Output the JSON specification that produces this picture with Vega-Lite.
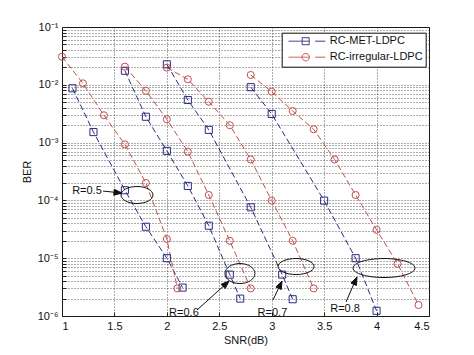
{
  "$schema": "https://vega.github.io/schema/vega-lite/v6.json",
  "width": 367,
  "height": 289,
  "autosize": {"type": "none"},
  "padding": {"left": 62, "top": 27, "right": 45, "bottom": 39},
  "background": "white",
  "config": {
    "font": "Liberation Sans",
    "view": {"stroke": "#111", "strokeWidth": 1},
    "axis": {
      "labelFont": "Liberation Sans", "labelFontSize": 11, "labelColor": "#111",
      "titleFont": "Liberation Sans", "titleFontSize": 11, "titleFontWeight": "normal", "titleColor": "#111",
      "domain": false, "grid": true, "gridColor": "#333", "gridDash": [1, 2], "gridOpacity": 0.8,
      "ticks": true, "tickColor": "#222", "tickSize": -4
    }
  },
  "datasets": {
    "curves": [
      {"scheme": "RC-MET-LDPC", "rate": "0.5", "snr": 1.1, "ber": 0.0087},
      {"scheme": "RC-MET-LDPC", "rate": "0.5", "snr": 1.3, "ber": 0.00152},
      {"scheme": "RC-MET-LDPC", "rate": "0.5", "snr": 1.6, "ber": 0.00015},
      {"scheme": "RC-MET-LDPC", "rate": "0.5", "snr": 1.8, "ber": 0.000035},
      {"scheme": "RC-MET-LDPC", "rate": "0.5", "snr": 2.0, "ber": 0.00001},
      {"scheme": "RC-MET-LDPC", "rate": "0.5", "snr": 2.15, "ber": 0.0000031},
      {"scheme": "RC-MET-LDPC", "rate": "0.6", "snr": 1.6, "ber": 0.0175},
      {"scheme": "RC-MET-LDPC", "rate": "0.6", "snr": 1.8, "ber": 0.0028},
      {"scheme": "RC-MET-LDPC", "rate": "0.6", "snr": 2.0, "ber": 0.00072},
      {"scheme": "RC-MET-LDPC", "rate": "0.6", "snr": 2.2, "ber": 0.000178},
      {"scheme": "RC-MET-LDPC", "rate": "0.6", "snr": 2.4, "ber": 0.0000365},
      {"scheme": "RC-MET-LDPC", "rate": "0.6", "snr": 2.6, "ber": 0.0000052},
      {"scheme": "RC-MET-LDPC", "rate": "0.6", "snr": 2.7, "ber": 0.000002},
      {"scheme": "RC-MET-LDPC", "rate": "0.7", "snr": 2.0, "ber": 0.0226},
      {"scheme": "RC-MET-LDPC", "rate": "0.7", "snr": 2.2, "ber": 0.00546},
      {"scheme": "RC-MET-LDPC", "rate": "0.7", "snr": 2.4, "ber": 0.00166},
      {"scheme": "RC-MET-LDPC", "rate": "0.7", "snr": 2.8, "ber": 0.000076},
      {"scheme": "RC-MET-LDPC", "rate": "0.7", "snr": 3.1, "ber": 0.0000052},
      {"scheme": "RC-MET-LDPC", "rate": "0.7", "snr": 3.2, "ber": 0.00000195},
      {"scheme": "RC-MET-LDPC", "rate": "0.8", "snr": 2.8, "ber": 0.0091},
      {"scheme": "RC-MET-LDPC", "rate": "0.8", "snr": 3.0, "ber": 0.00313},
      {"scheme": "RC-MET-LDPC", "rate": "0.8", "snr": 3.5, "ber": 0.000099},
      {"scheme": "RC-MET-LDPC", "rate": "0.8", "snr": 3.8, "ber": 0.00001},
      {"scheme": "RC-MET-LDPC", "rate": "0.8", "snr": 4.0, "ber": 0.00000123},
      {"scheme": "RC-irregular-LDPC", "rate": "0.5", "snr": 1.0, "ber": 0.0306},
      {"scheme": "RC-irregular-LDPC", "rate": "0.5", "snr": 1.2, "ber": 0.0106},
      {"scheme": "RC-irregular-LDPC", "rate": "0.5", "snr": 1.4, "ber": 0.00297},
      {"scheme": "RC-irregular-LDPC", "rate": "0.5", "snr": 1.6, "ber": 0.00093},
      {"scheme": "RC-irregular-LDPC", "rate": "0.5", "snr": 1.8, "ber": 0.0002},
      {"scheme": "RC-irregular-LDPC", "rate": "0.5", "snr": 2.0, "ber": 0.0000215},
      {"scheme": "RC-irregular-LDPC", "rate": "0.5", "snr": 2.1, "ber": 0.000003},
      {"scheme": "RC-irregular-LDPC", "rate": "0.6", "snr": 1.6, "ber": 0.0206},
      {"scheme": "RC-irregular-LDPC", "rate": "0.6", "snr": 1.8, "ber": 0.0079},
      {"scheme": "RC-irregular-LDPC", "rate": "0.6", "snr": 2.0, "ber": 0.00253},
      {"scheme": "RC-irregular-LDPC", "rate": "0.6", "snr": 2.2, "ber": 0.000697},
      {"scheme": "RC-irregular-LDPC", "rate": "0.6", "snr": 2.4, "ber": 0.000124},
      {"scheme": "RC-irregular-LDPC", "rate": "0.6", "snr": 2.6, "ber": 0.00002},
      {"scheme": "RC-irregular-LDPC", "rate": "0.6", "snr": 2.8, "ber": 0.000003},
      {"scheme": "RC-irregular-LDPC", "rate": "0.7", "snr": 2.0, "ber": 0.0198},
      {"scheme": "RC-irregular-LDPC", "rate": "0.7", "snr": 2.2, "ber": 0.01245},
      {"scheme": "RC-irregular-LDPC", "rate": "0.7", "snr": 2.4, "ber": 0.0051},
      {"scheme": "RC-irregular-LDPC", "rate": "0.7", "snr": 2.6, "ber": 0.002},
      {"scheme": "RC-irregular-LDPC", "rate": "0.7", "snr": 2.8, "ber": 0.00051},
      {"scheme": "RC-irregular-LDPC", "rate": "0.7", "snr": 3.0, "ber": 0.000099},
      {"scheme": "RC-irregular-LDPC", "rate": "0.7", "snr": 3.2, "ber": 0.00002},
      {"scheme": "RC-irregular-LDPC", "rate": "0.7", "snr": 3.4, "ber": 0.000003},
      {"scheme": "RC-irregular-LDPC", "rate": "0.8", "snr": 2.8, "ber": 0.0148},
      {"scheme": "RC-irregular-LDPC", "rate": "0.8", "snr": 3.0, "ber": 0.0076},
      {"scheme": "RC-irregular-LDPC", "rate": "0.8", "snr": 3.2, "ber": 0.00352},
      {"scheme": "RC-irregular-LDPC", "rate": "0.8", "snr": 3.4, "ber": 0.0017},
      {"scheme": "RC-irregular-LDPC", "rate": "0.8", "snr": 3.6, "ber": 0.00051},
      {"scheme": "RC-irregular-LDPC", "rate": "0.8", "snr": 3.8, "ber": 0.000124},
      {"scheme": "RC-irregular-LDPC", "rate": "0.8", "snr": 4.0, "ber": 0.000031},
      {"scheme": "RC-irregular-LDPC", "rate": "0.8", "snr": 4.2, "ber": 0.000008},
      {"scheme": "RC-irregular-LDPC", "rate": "0.8", "snr": 4.4, "ber": 0.00000155}
    ],
    "ellipses": [
      {"label": "R=0.5", "snr": 1.715, "ber": 0.000124},
      {"label": "R=0.6", "snr": 2.697, "ber": 0.00000543},
      {"label": "R=0.7", "snr": 3.232, "ber": 0.00000718},
      {"label": "R=0.8", "snr": 4.071, "ber": 0.00000676}
    ],
    "arrows": [
      {"label": "R=0.5", "snr": 1.572, "ber": 0.000134},
      {"label": "R=0.6", "snr": 2.593, "ber": 0.00000403},
      {"label": "R=0.7", "snr": 3.098, "ber": 0.00000403},
      {"label": "R=0.8", "snr": 3.813, "ber": 0.00000473}
    ],
    "labels": [
      {"label": "R=0.5", "snr": 1.238, "ber": 0.000146},
      {"label": "R=0.6", "snr": 2.163, "ber": 0.00000113},
      {"label": "R=0.7", "snr": 3.007, "ber": 0.00000113},
      {"label": "R=0.8", "snr": 3.699, "ber": 0.00000132}
    ]
  },
  "encoding": {
    "x": {
      "field": "snr", "type": "quantitative",
      "scale": {"domain": [1, 4.5], "nice": false, "zero": false},
      "axis": {"values": [1, 1.5, 2, 2.5, 3, 3.5, 4, 4.5], "format": "~g", "title": "SNR(dB)", "labelPadding": 8, "titlePadding": 3}
    },
    "y": {
      "field": "ber", "type": "quantitative",
      "scale": {"type": "log", "domain": [0.000001, 0.1], "nice": false},
      "axis": {
        "values": [0.000001, 0.000002, 0.000003, 0.000004, 0.000005, 0.000006, 0.000007, 0.000008, 0.000009,
                   0.00001, 0.00002, 0.00003, 0.00004, 0.00005, 0.00006, 0.00007, 0.00008, 0.00009,
                   0.0001, 0.0002, 0.0003, 0.0004, 0.0005, 0.0006, 0.0007, 0.0008, 0.0009,
                   0.001, 0.002, 0.003, 0.004, 0.005, 0.006, 0.007, 0.008, 0.009,
                   0.01, 0.02, 0.03, 0.04, 0.05, 0.06, 0.07, 0.08, 0.09, 0.1],
        "title": "BER",
        "labelExpr": "abs(datum.value / pow(10, round(log(datum.value) / LN10)) - 1) < 0.001 ? '10' + ['⁻¹','⁻²','⁻³','⁻⁴','⁻⁵','⁻⁶'][-round(log(datum.value) / LN10) - 1] : ''",
        "labelPadding": 8,
        "titlePadding": 5
      }
    }
  },
  "layer": [
    {
      "data": {"name": "curves"},
      "mark": {"type": "line", "strokeWidth": 1, "strokeDash": [6, 3]},
      "encoding": {
        "color": {
          "field": "scheme", "type": "nominal",
          "scale": {"domain": ["RC-MET-LDPC", "RC-irregular-LDPC"], "range": ["#2b2b80", "#c0504d"]},
          "legend": {
            "orient": "none", "legendX": 219.7, "legendY": 5.7, "title": null,
            "fillColor": "white", "strokeColor": "#111", "padding": 3,
            "symbolSize": 49, "symbolOffset": 15.5, "labelOffset": 18.5,
            "labelFont": "Liberation Sans", "labelFontSize": 11, "labelColor": "#111",
            "rowPadding": 4, "symbolStrokeWidth": 1,
            "encode": {
              "symbols": {
                "update": {
                  "shape": {"signal": "datum.value == 'RC-MET-LDPC' ? 'M-4.9,0H1M-1,-1H1V1H-1ZM2.7,0H5.6' : 'M-4.9,0H1M-1.05,0C-1.05,-0.58,-0.58,-1.05,0,-1.05C0.58,-1.05,1.05,-0.58,1.05,0C1.05,0.58,0.58,1.05,0,1.05C-0.58,1.05,-1.05,0.58,-1.05,0ZM2.7,0H5.6'"},
                  "strokeDash": {"value": [1, 0]},
                  "fill": {"value": "transparent"},
                  "strokeWidth": {"value": 1}
                }
              }
            }
          }
        },
        "detail": {"field": "rate", "type": "nominal"}
      }
    },
    {
      "data": {"name": "curves"},
      "mark": {"type": "point", "filled": false, "size": 50, "strokeWidth": 1, "opacity": 1},
      "encoding": {
        "color": {"field": "scheme", "type": "nominal"},
        "shape": {
          "field": "scheme", "type": "nominal",
          "scale": {"domain": ["RC-MET-LDPC", "RC-irregular-LDPC"], "range": ["square", "circle"]},
          "legend": null
        }
      }
    },
    {
      "data": {"name": "ellipses"},
      "mark": {"type": "point", "filled": false, "size": 4, "color": "#111", "strokeWidth": 1, "opacity": 1},
      "encoding": {
        "shape": {
          "field": "label", "type": "nominal",
          "scale": {
            "domain": ["R=0.5", "R=0.6", "R=0.7", "R=0.8"],
            "range": [
              "M-16,0C-16,-4.69,-8.84,-8.5,0,-8.5C8.84,-8.5,16,-4.69,16,0C16,4.69,8.84,8.5,0,8.5C-8.84,8.5,-16,4.69,-16,0Z",
              "M-15,0C-15,-5.52,-8.28,-10,0,-10C8.28,-10,15,-5.52,15,0C15,5.52,8.28,10,0,10C-8.28,10,-15,5.52,-15,0Z",
              "M-18,0C-18,-4.42,-9.94,-8,0,-8C9.94,-8,18,-4.42,18,0C18,4.42,9.94,8,0,8C-9.94,8,-18,4.42,-18,0Z",
              "M-31,0C-31,-5.25,-17.12,-9.5,0,-9.5C17.12,-9.5,31,-5.25,31,0C31,5.25,17.12,9.5,0,9.5C-17.12,9.5,-31,5.25,-31,0Z"
            ]
          },
          "legend": null
        }
      }
    },
    {
      "data": {"name": "arrows"},
      "mark": {"type": "point", "filled": true, "size": 4, "color": "#111", "stroke": "#111", "strokeWidth": 1, "opacity": 1},
      "encoding": {
        "shape": {
          "field": "label", "type": "nominal",
          "scale": {
            "domain": ["R=0.5", "R=0.6", "R=0.7", "R=0.8"],
            "range": [
              "M-19,-2L0,0M0,0L-8.3,2.2L-7.7,-3.8Z",
              "M-32,29L0,0M0,0L-3.9,7.6L-7.9,3.2Z",
              "M-9,19L0,0M0,0L-0.7,8.5L-6.1,6Z",
              "M-11,25L0,0M0,0L-0.5,8.5L-6,6.1Z"
            ]
          },
          "legend": null
        }
      }
    },
    {
      "data": {"name": "labels"},
      "mark": {"type": "text", "font": "Liberation Sans", "fontSize": 11, "color": "#111"},
      "encoding": {"text": {"field": "label"}}
    }
  ],
  "resolve": {"scale": {"shape": "independent"}}
}
